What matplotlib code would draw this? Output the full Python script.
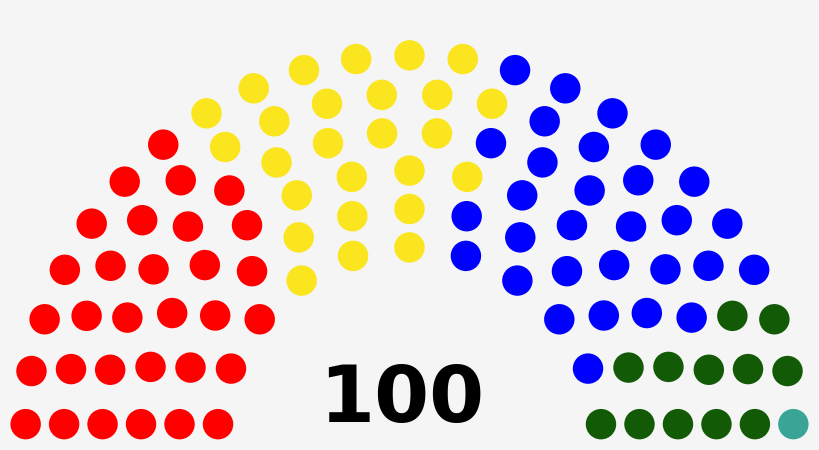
import math
import matplotlib
matplotlib.use('Agg')
import matplotlib.pyplot as plt
from matplotlib.patches import Circle

# seats per party, listed left to right around the arch
parties = ['Red', 'Yellow', 'Blue', 'Green', 'Teal']
seats = [31, 26, 30, 12, 1]
colors = ['#ff0000', '#fae51e', '#0000ff', '#125a06', '#3aa597']
total_label = '100'

# row thresholds used by the arch layout
Totals = [3, 15, 33, 61, 95, 138, 189, 247, 313, 388, 469, 559]


def arch_positions(n):
    rows = next(i + 1 for i in range(len(Totals)) if n <= Totals[i])
    radius = 0.4 / rows
    pos = []
    for i in range(1, rows):
        R = (3.0 * rows + 4.0 * i - 2.0) / (4.0 * rows)
        J = int(float(n) / Totals[rows - 1] * math.pi / (2 * math.asin(2.0 / (3.0 * rows + 4.0 * i - 2.0))))
        for j in range(J):
            a = j * (math.pi - 2.0 * math.sin(radius / R)) / (J - 1.0) + math.sin(radius / R)
            pos.append((a, R * math.cos(a), R * math.sin(a)))
    R = (3.0 * rows + 4.0 * rows - 2.0) / (4.0 * rows)
    J = n - len(pos)
    for j in range(J):
        a = j * (math.pi - 2.0 * math.sin(radius / R)) / (J - 1.0) + math.sin(radius / R)
        pos.append((a, R * math.cos(a), R * math.sin(a)))
    pos.sort(reverse=True)
    return pos, radius


pos, spot = arch_positions(sum(seats))

scale = 230.5
cx, cy = 409.5, 439.5

fig = plt.figure(figsize=(8.2, 4.5), dpi=100)
fig.patch.set_facecolor('#f5f5f5')
ax = fig.add_axes([0, 0, 1, 1])
ax.set_facecolor('#f5f5f5')
ax.set_xlim(0, 820)
ax.set_ylim(450, 0)
ax.set_aspect('equal')
ax.axis('off')

k = 0
for party, n, col in zip(parties, seats, colors):
    for _ in range(n):
        a, x, y = pos[k]
        ax.add_patch(Circle((cx + scale * x, cy - scale * y), scale * spot * 0.99,
                            facecolor=col, edgecolor='none'))
        k += 1

ax.text(401.5, 400, total_label, ha='center', va='center', fontsize=57,
        fontweight='bold', color='black', family='DejaVu Sans')

fig.savefig('out.png', dpi=100, facecolor=fig.get_facecolor())
